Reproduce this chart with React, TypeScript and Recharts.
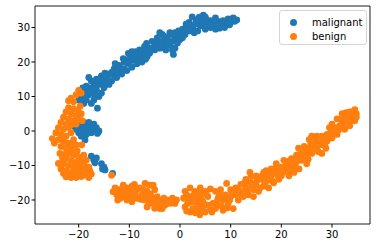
import {
  ReferenceArea,
  Scatter,
  ScatterChart,
  XAxis,
  YAxis,
} from 'recharts';

type Pt = [number, number];

const xTicks = [-20, -10, 0, 10, 20, 30];
const yTicks = [-20, -10, 0, 10, 20, 30];
const xDomain: [number, number] = [-28.62, 37.5];
const yDomain: [number, number] = [-26.96, 36.23];

// malignant: the long upper arc plus two small clumps further down
const malignantArc: Pt[] = [
  [11.2, 32.2], [10.5, 32.8], [10, 31.5], [9.5, 32.5], [9, 31], [8.5, 32], [8, 30.5], [7.5, 31.8],
  [7, 29.5], [7, 32.8], [6.5, 31], [6, 30], [6, 32], [5.5, 31.5], [5, 29.5], [5, 33], [4.6, 33.6],
  [4, 32], [4, 30.5], [3.5, 29], [3, 31], [2.4, 33.1], [2.5, 30], [2, 29], [1.5, 30.5], [1, 28],
  [1, 29.5], [0.5, 27], [0, 28.5], [0, 26.5], [-0.5, 27.5], [-0.5, 25.5], [-1, 27], [-1, 24],
  [-1.3, 22.2], [-1.5, 23.5], [-1.5, 26], [-2, 28.5], [-2, 25], [-2.5, 27], [-3, 24], [-3, 26.5],
  [-3.5, 25], [-3.5, 28], [-4, 26], [-4.5, 24.5], [-4.5, 27], [-5, 23.5], [-5.5, 24], [-6.6, 25.4],
  [-6, 22.5], [-6.5, 21.5], [-7, 23], [-7.5, 22], [-7.5, 20], [-8, 23.5], [-8, 21], [-8.5, 19.5],
  [-9, 22], [-9, 20.5], [-9.5, 23], [-9.5, 18.5], [-10, 21], [-10, 19.5], [-10.5, 17.5], [-11, 20],
  [-11, 18], [-11.5, 16.5], [-12, 19], [-12, 17], [-12.5, 15.5], [-13, 18], [-13, 16], [-13.5, 14.5],
  [-14, 16.5], [-14, 13.5], [-14.5, 15], [-15, 12.5], [-15, 14.5], [-15.5, 16], [-15.5, 11],
  [-16, 13.5], [-16, 10], [-16.5, 12], [-16.5, 15], [-17, 9], [-17, 11], [-17, 13.5], [-17.5, 14.5],
  [-17.5, 8], [-18, 10.5], [-18, 12.5], [-18, 15.5], [-18.5, 9], [-18.5, 13], [-19, 11], [-19, 8],
  [-19.5, 9.5], [-20, 9], [-16.3, 6.6],
  [10.8, 31.8], [9.8, 30.8], [8.8, 30], [8.2, 31.2], [7.8, 29.8], [6.8, 30.2], [5.8, 30.8], [5.2, 32.3],
  [4.5, 31], [3.8, 33], [3.2, 32.2], [2.8, 28.5], [1.8, 31.5], [1.2, 31], [0.5, 29.5], [0.3, 28],
  [-0.3, 29], [-1, 28.5], [-1.5, 28], [-2.5, 25.8], [-2.8, 23.5], [-3.2, 27.5], [-4, 24], [-4, 28.5],
  [-5, 25.5], [-5.5, 26], [-6, 24], [-6.8, 20.8], [-7, 24.5], [-8.2, 22.2], [-8.8, 23], [-9.2, 21.5],
  [-10.2, 22.5], [-10.5, 19.8], [-11.2, 21], [-11.8, 18.3], [-12.3, 17.5], [-12.8, 19.5], [-13.5, 17],
  [-14.2, 14.8], [-14.8, 16.8], [-15.2, 13.5], [-16, 15], [-16.8, 10.5], [-17.3, 12.3], [-18.3, 11.5],
  [-18.8, 10], [-19.2, 12.5], [-19.8, 10.5],
];

const malignantLow: Pt[] = [
  [-21, 1.5], [-20.5, 0.5], [-20, 2], [-20, -0.5], [-19.5, 1], [-19, 2.5], [-19, 0], [-18.5, 1.5],
  [-18.5, -1], [-18, 2.5], [-18, 0.5], [-17.5, 1.5], [-17.5, -0.5], [-17, 2], [-17, 0.5], [-16.5, 1],
  [-16, 0], [-16.3, -0.7], [-18.75, -2.6], [-19.5, -1.5],
  [-17.5, -7.3], [-17, -8.5], [-16.5, -7.8], [-16.8, -9.2], [-15.5, -9.5], [-15, -10.5],
  [-14.8, -11.3], [-15.3, -11], [-13.3, -12.3],
];

// benign: left clump, bottom clumps, rising band to the right
const benignLeft: Pt[] = [
  [-20, 11.8], [-19.5, 11], [-20.5, 10.5], [-21.5, 9.5], [-22, 8.8], [-21, 8.5], [-19.7, 7.2], [-20.2, 6],
  [-22.5, 5.5], [-21.5, 5], [-20.5, 4.5], [-19.5, 5], [-23, 4], [-22, 3.5], [-21, 3], [-20, 3.5],
  [-19.3, 3], [-23.5, 2.5], [-22.5, 2], [-24, 1], [-23, 0.5], [-22, 1], [-21.5, -0.5], [-24.5, -0.5],
  [-23.5, -1], [-22.5, -1.5], [-25.2, -2.2], [-24, -2.5], [-23, -3], [-22, -3.5], [-21, -2.5],
  [-20.5, -4], [-19.4, -4], [-23.5, -4.5], [-22.5, -5], [-21.5, -5.5], [-23.7, -6.5],
  [-22, -6.5], [-21, -7], [-20, -7.5], [-19, -7], [-22.5, -8], [-21.5, -8.5], [-20.5, -9], [-19.5, -9],
  [-18.5, -8.5], [-24, -9.4], [-23, -9.5], [-22, -10], [-21, -10.5], [-20, -10.5], [-19, -10],
  [-18, -10.5], [-23.5, -11], [-22.5, -11.5], [-21.5, -12], [-20.5, -12], [-19.5, -12], [-18.5, -12],
  [-17.5, -12.5], [-22.5, -13.3], [-21.5, -13.5], [-20.5, -13.5], [-19.5, -13.2], [-18, -13.5],
  [-13.5, -12.8],
  [-21, 6.5], [-22, 6.8], [-20.5, 2], [-21.5, 1.8], [-23, -2], [-24.8, -3.5], [-22.2, -4.3], [-21.2, -4.2],
  [-20.3, -5.8], [-22.8, -6.8], [-23.2, -7.8], [-21, -9.8], [-19.8, -8.3], [-18.8, -11.2], [-20, -11.3],
  [-22, -12.5], [-23, -12.3], [-19, -12.8], [-17.8, -11.5],
];

const benignBottom: Pt[] = [
  [-13.2, -17.6], [-12.8, -16.5], [-12.5, -18.5], [-12, -17], [-11.8, -19.5], [-11.2, -15.7], [-11, -18],
  [-10.5, -16.5], [-10.5, -20], [-10, -17.5], [-10, -19], [-9.5, -16], [-9.5, -20.5], [-9, -18],
  [-9, -15.5], [-8.5, -17], [-8.5, -19.5], [-8, -16.5], [-12.3, -20],
  [-12.5, -17.3], [-11.5, -17.2], [-11.3, -19], [-10.8, -18.8], [-9.8, -16.8], [-9.3, -19.2], [-8.8, -18.5],
  [-12, -18.3],
  [-6.9, -15.2], [-6, -15.7], [-5.3, -15.7], [-5, -17], [-7.5, -18.5], [-7, -20], [-6.5, -19], [-6, -21],
  [-5.5, -19.5], [-5, -20.5], [-5, -22.4], [-4.5, -19], [-4, -21], [-3.5, -20], [-3, -21.5], [-2.5, -20],
  [-2, -21], [-1.5, -19.5], [-0.7, -20], [-4, -22.5], [-6.5, -22],
  [-7.2, -17], [-6.5, -17.5], [-7.8, -19.8], [-6.3, -20.2], [-5.8, -18.3], [-4.8, -21.5], [-4.2, -20],
  [-3.2, -19.5], [-2.8, -20.8], [-1.8, -20.2], [-1, -21], [-3.5, -22.5],
  [0.7, -19.5], [1, -17.5], [1.5, -21], [2, -19], [2, -16.5], [2.5, -20.5], [2.5, -22.5], [3, -17.5],
  [3, -19.5], [3.5, -21.5], [3.9, -24.3], [3.5, -23], [4, -16.5], [4, -18.5], [4.5, -20.5], [4.5, -22],
  [5, -17.5], [5, -23.5], [5.5, -19], [5.5, -21.5], [6, -16.8], [6, -22.8], [6.5, -21], [7, -17.5],
  [7, -22.5], [7.5, -19.5], [7.5, -21.5], [8, -17], [8.5, -20], [8.5, -23], [9, -18.5], [9.2, -15.2],
  [9.5, -21], [10, -19], [10.5, -22.5], [10, -17], [1, -22], [2, -23.5],
  [1.3, -18.5], [1.8, -20.2], [2.8, -18.3], [3.2, -20.7], [3.8, -17.5], [4.2, -19.5], [4.8, -21.3],
  [5.2, -18.3], [6.3, -23.5], [7.3, -20.5], [7.8, -18.3], [8.2, -21.8], [8.8, -19.3], [9.3, -22.3],
  [9.8, -20], [10.3, -18], [3, -23.7], [4.3, -23.3], [1.3, -23.2],
];

const benignBand: Pt[] = [
  [11, -16.5], [11, -18.5], [11.5, -20], [12, -15.5], [12, -17.5], [12.5, -19], [13, -14], [13, -16.5],
  [13.5, -18.5], [13.8, -12], [14, -15], [14.5, -17], [14.5, -19], [15, -13], [15, -15.5], [15.5, -17.5],
  [16, -14], [16.5, -12], [16.5, -16], [17, -11.5], [17, -14.5], [17.5, -16.5], [18, -13], [18, -11],
  [18.5, -15], [19, -12], [19, -9.5], [19.5, -14], [20, -10.5], [20, -13], [20.5, -8.5], [21, -11.5],
  [21, -9.5], [21.5, -13], [22, -8], [22, -10.5], [22.5, -12], [23, -7], [23, -9], [23.4, -5],
  [23.5, -11], [24, -6.5], [24, -8.5], [24.5, -4.5], [25, -7], [25, -9.5], [25.5, -2.5], [25.5, -5],
  [26, -1.5], [26, -6.5], [26.5, -3.5], [27, -1.5], [27, -5], [27.5, -3], [28, -1.5], [28, -6.5],
  [28.5, -4], [29, -1], [29, -3], [29.5, 1], [30, -2], [30, 2], [30.5, 0], [31, 3.5], [31, -1],
  [31.5, 1.5], [32, 5], [32, 2.5], [32.5, 4], [32.5, 0.5], [33, 3], [33.5, 5.5], [33.5, 1.5], [34, 4.5],
  [34.5, 6.2], [34.5, 3], [34.8, 5],
  [11.5, -17.2], [12.2, -18.5], [12.8, -15], [13.3, -17.5], [14, -13.2], [14.2, -16], [15.2, -14.3],
  [15.8, -16.5], [16.2, -13], [16.8, -15], [17.3, -13], [17.8, -12], [18.2, -14.5], [18.7, -11],
  [19.3, -13], [19.8, -11.5], [20.3, -12], [20.8, -10.3], [21.3, -8.8], [21.8, -11.8], [22.3, -9.3],
  [22.8, -10.5], [23.3, -8], [24.3, -7.3], [24.8, -5.8], [25.3, -8.2], [25.8, -3.8], [26.3, -5.3],
  [26.8, -2.5], [27.3, -6], [27.8, -4], [28.3, -2.5], [28.8, -5], [29.3, -2], [29.8, -0.5], [30.3, -1],
  [30.8, 1], [31.3, 0.3], [31.8, 3.5], [32.3, 1.3], [32.8, 5.3], [33.3, 4.3], [33.8, 3], [34.2, 5.7],
  [34.8, 4],
];

const toRows = (pts: Pt[]) => pts.map(([x, y]) => ({ x, y }));
const malignant = toRows([...malignantArc, ...malignantLow]);
const benign = toRows([...benignLeft, ...benignBottom, ...benignBand]);

const series = [
  { name: 'malignant', color: '#1f77b4' },
  { name: 'benign', color: '#ff7f0e' },
];

const fmt = (v: number) => (v < 0 ? `\u2212${-v}` : `${v}`);
const font = { fontFamily: 'DejaVu Sans', fontSize: 10, fill: '#000' };

const dot = (color: string) => (p: any) => <circle cx={p.cx} cy={p.cy} r={3.4} fill={color} />;

function LegendBox() {
  return (
    <div
      style={{
        position: 'absolute',
        left: 279,
        top: 10,
        width: 88,
        height: 35,
        border: '1px solid #d4d4d4',
        borderRadius: 3,
        background: 'rgba(255,255,255,0.8)',
        fontFamily: 'DejaVu Sans',
        fontSize: 10,
        boxSizing: 'border-box',
        paddingTop: 4,
      }}
    >
      {series.map((s) => (
        <div key={s.name} style={{ display: 'flex', alignItems: 'center', height: 14 }}>
          <span
            style={{
              width: 7,
              height: 7,
              borderRadius: 4,
              background: s.color,
              marginLeft: 10,
              marginRight: 15,
            }}
          />
          <span style={{ color: '#000' }}>{s.name}</span>
        </div>
      ))}
    </div>
  );
}

export default function App() {
  return (
    <div style={{ position: 'absolute', left: 0, top: 0, width: 377, height: 248, background: '#fff' }}>
      <ScatterChart width={377} height={248} margin={{ top: 6, right: 7, left: 0, bottom: 0 }}>
        <XAxis
          type="number"
          dataKey="x"
          domain={xDomain}
          ticks={xTicks}
          allowDataOverflow
          height={24}
          tickSize={3.5}
          tickMargin={3}
          tickFormatter={fmt}
          tick={font}
          stroke="#000"
          axisLine={false}
        />
        <YAxis
          type="number"
          dataKey="y"
          domain={yDomain}
          ticks={yTicks}
          allowDataOverflow
          width={35}
          tickSize={3.5}
          tickMargin={1.5}
          tickFormatter={fmt}
          tick={font}
          stroke="#000"
          axisLine={false}
        />
        <Scatter
          name="malignant"
          data={malignant}
          fill={series[0].color}
          shape={dot(series[0].color)}
          isAnimationActive={false}
        />
        <Scatter
          name="benign"
          data={benign}
          fill={series[1].color}
          shape={dot(series[1].color)}
          isAnimationActive={false}
        />
        <ReferenceArea
          x1={xDomain[0]}
          x2={xDomain[1]}
          y1={yDomain[0]}
          y2={yDomain[1]}
          fill="none"
          stroke="#000"
          strokeWidth={0.9}
          ifOverflow="visible"
        />
      </ScatterChart>
      <LegendBox />
    </div>
  );
}
